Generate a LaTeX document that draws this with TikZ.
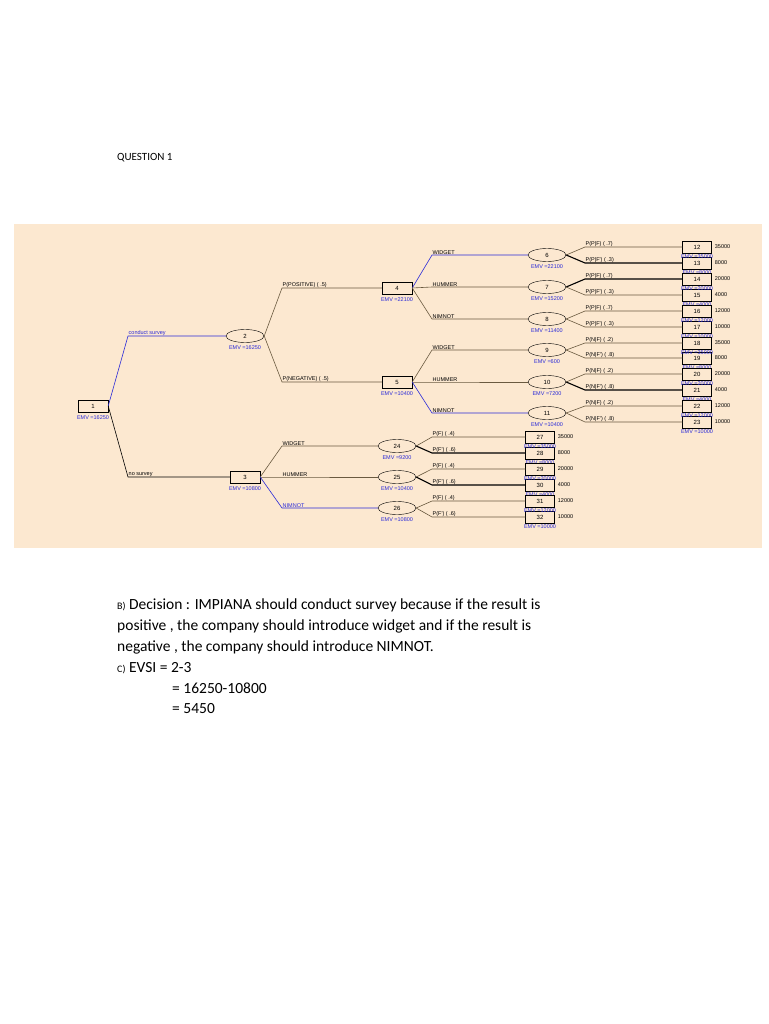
\documentclass[tikz,border=0pt]{standalone}
\usepackage{fontspec}
\setmainfont{Carlito}
\newfontfamily\tf{Liberation Sans}
\usetikzlibrary{shapes.geometric}
\definecolor{bg}{HTML}{FCE8D0}
\definecolor{lnk}{HTML}{2A2AD8}
\definecolor{br}{HTML}{6A5A40}
\begin{document}
\begin{tikzpicture}[x=1pt,y=-1pt,
  dec/.style={draw=black,fill=bg,minimum width=30pt,minimum height=12pt,inner sep=0pt,font=\tf\fontsize{6}{6}\selectfont},
  term/.style={draw=black,minimum width=29pt,minimum height=12pt,inner sep=0pt,font=\tf\fontsize{6}{6}\selectfont},
  chance/.style={draw=black,fill=bg,ellipse,minimum width=38pt,minimum height=13pt,inner sep=0pt,font=\tf\fontsize{6}{6}\selectfont},
  emv/.style={text=lnk,font=\tf\fontsize{5.5}{5.5}\selectfont,inner sep=0pt},
  lab/.style={font=\tf\fontsize{5.5}{5.5}\selectfont,inner sep=0.5pt,anchor=south west},
  pay/.style={font=\tf\fontsize{5.5}{5.5}\selectfont,inner sep=0pt,anchor=west},
  br/.style={draw=br,line width=0.6pt},
  bb/.style={draw=black,line width=1.1pt},
  bl/.style={draw=lnk,line width=0.6pt},
  txt/.style={anchor=base west,inner sep=0pt,font=\fontsize{15.5}{18}\selectfont}]
\useasboundingbox (0,0) rectangle (768,1024);
\fill[white] (0,0) rectangle (768,1024);
\fill[bg] (14,224) rectangle (762,548);
\node[anchor=base west,inner sep=0pt,font=\fontsize{11}{13}\selectfont] (q) at (117,161) {QUESTION 1};
% decision and chance nodes
\node[dec] (n1) at (93,406) {1};
\node[chance] (n2) at (245,336) {2};
\node[dec] (n3) at (245,477) {3};
\node[dec] (n4) at (397,288) {4};
\node[dec] (n5) at (397,382) {5};
\node[chance] (n24) at (397,446) {24};
\node[chance] (n25) at (397,477) {25};
\node[chance] (n26) at (397,508) {26};
\foreach \i/\y in {6/255,7/287,8/319,9/350,10/382,11/413}{\node[chance] (n\i) at (547,\y) {\i};}
% EMV labels
\foreach \i/\v in {1/16250,2/16250,3/10800,4/22100,5/10400,24/9200,25/10400,26/10800,6/22100,7/15200,8/11400,9/600,10/7200,11/10400}{
  \node[emv,anchor=north] (e\i) at ([yshift=-3pt]n\i.south) {EMV =\v};}
% first level
\coordinate (c1) at (128,336); \coordinate (c2) at (128,477);
\draw[bl] (n1.east) -- (c1) -- (n2.west);
\node[lab,text=lnk] (l1) at (c1) {conduct survey};
\draw[br,draw=black] (n1.east) -- (c2) -- (n3.west);
\node[lab] (l2) at (c2) {no survey};
% second level
\coordinate (c3) at (282,288); \coordinate (c4) at (282,382);
\draw[br] (n2.east) -- (c3) -- (n4.west); \node[lab] (l3) at (c3) {P(POSITIVE) ( .5)};
\draw[br] (n2.east) -- (c4) -- (n5.west); \node[lab] (l4) at (c4) {P(NEGATIVE) ( .5)};
\coordinate (c5) at (282,446); \coordinate (c6) at (282,477); \coordinate (c7) at (282,508);
\draw[br] (n3.east) -- (c5) -- (n24.west); \node[lab] (l5) at (c5) {WIDGET};
\draw[br] (n3.east) -- (c6) -- (n25.west); \node[lab] (l6) at (c6) {HUMMER};
\draw[bl] (n3.east) -- (c7) -- (n26.west); \node[lab,text=lnk] (l7) at (c7) {NIMNOT};
% third level
\foreach \p/\a/\b/\c/\sa/\sb/\sc in {4/6/7/8/bl/br/br,5/9/10/11/br/br/bl}{
  \coordinate (w\p) at (432,|-n\a); \coordinate (h\p) at (432,|-n\b); \coordinate (m\p) at (432,|-n\c);
  \draw[\sa] (n\p.east) -- (w\p) -- (n\a.west); \node[lab,text=\ifx\sa bl lnk\else black\fi] (lw\p) at (w\p) {WIDGET};
  \draw[\sb] (n\p.east) -- (h\p) -- (n\b.west); \node[lab] (lh\p) at (h\p) {HUMMER};
  \draw[\sc] (n\p.east) -- (m\p) -- (n\c.west); \node[lab,text=\ifx\sc bl lnk\else black\fi] (lm\p) at (m\p) {NIMNOT};}
% terminals right
\foreach \c/\t/\u/\ya/\yb/\pa/\pb/\la/\lb/\sa/\sb in {
  6/12/13/247/263/35000/8000/P(P|F) ( .7)/P(P|F') ( .3)/br/bb,
  7/14/15/279/295/20000/4000/P(P|F) ( .7)/P(P|F') ( .3)/bb/br,
  8/16/17/311/327/12000/10000/P(P|F) ( .7)/P(P|F') ( .3)/br/br,
  9/18/19/343/358/35000/8000/P(N|F) ( .2)/P(N|F') ( .8)/br/br,
  10/20/21/374/390/20000/4000/P(N|F) ( .2)/P(N|F') ( .8)/br/bb,
  11/22/23/406/422/12000/10000/P(N|F) ( .2)/P(N|F') ( .8)/br/br}{
  \node[term] (n\t) at (697,\ya) {\t}; \node[term] (n\u) at (697,\yb) {\u};
  \coordinate (a\t) at (585,\ya); \coordinate (a\u) at (585,\yb);
  \draw[\sa] (n\c.east) -- (a\t) -- (n\t.west); \node[lab] (la\t) at (a\t) {\la};
  \draw[\sb] (n\c.east) -- (a\u) -- (n\u.west); \node[lab] (la\u) at (a\u) {\lb};
  \node[pay] (p\t) at ([xshift=3pt]n\t.east) {\pa}; \node[pay] (p\u) at ([xshift=3pt]n\u.east) {\pb};
  \node[emv,anchor=north] (e\t) at ([yshift=-1pt]n\t.south) {EMV =\pa};
  \node[emv,anchor=north] (e\u) at ([yshift=-1pt]n\u.south) {EMV =\pb};}
% terminals lower
\foreach \c/\t/\u/\ya/\yb/\pa/\pb/\sa/\sb in {
  24/27/28/437/453/35000/8000/br/bb,
  25/29/30/469/485/20000/4000/br/bb,
  26/31/32/501/517/12000/10000/br/br}{
  \node[term] (n\t) at (540,\ya) {\t}; \node[term] (n\u) at (540,\yb) {\u};
  \coordinate (a\t) at (432,\ya); \coordinate (a\u) at (432,\yb);
  \draw[\sa] (n\c.east) -- (a\t) -- (n\t.west); \node[lab] (la\t) at (a\t) {P(F) ( .4)};
  \draw[\sb] (n\c.east) -- (a\u) -- (n\u.west); \node[lab] (la\u) at (a\u) {P(F') ( .6)};
  \node[pay] (p\t) at ([xshift=3pt]n\t.east) {\pa}; \node[pay] (p\u) at ([xshift=3pt]n\u.east) {\pb};
  \node[emv,anchor=north] (e\t) at ([yshift=-1pt]n\t.south) {EMV =\pa};
  \node[emv,anchor=north] (e\u) at ([yshift=-1pt]n\u.south) {EMV =\pb};}
% text
\node[txt] (t1) at (117,609) {{\fontsize{10}{12}\selectfont B)} Decision : IMPIANA should conduct survey because if the result is};
\node[txt] (t2) at (117,630) {positive , the company should introduce widget and if the result is};
\node[txt] (t3) at (117,651) {negative , the company should introduce NIMNOT.};
\node[txt] (t4) at (117,672) {{\fontsize{10}{12}\selectfont C)} EVSI = 2-3};
\node[txt] (t5) at (172,693) {= 16250-10800};
\node[txt] (t6) at (172,713) {= 5450};
\end{tikzpicture}
\end{document}
